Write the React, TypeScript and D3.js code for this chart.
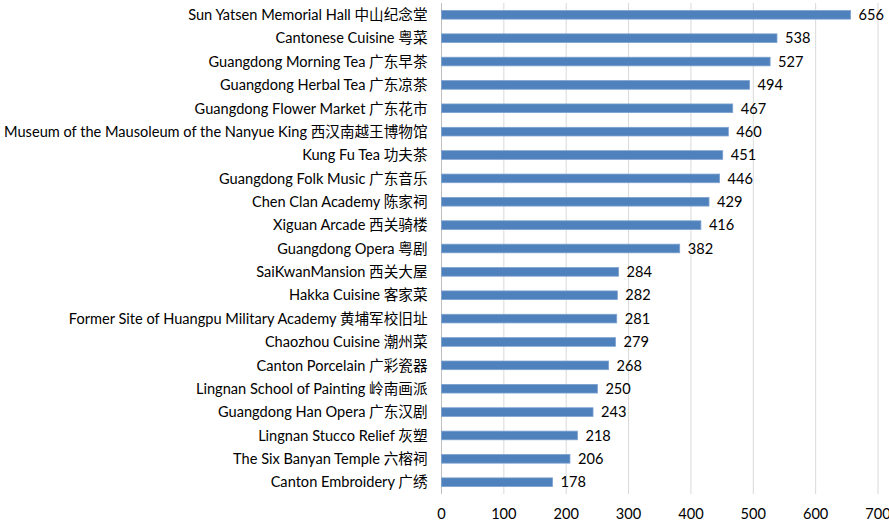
import React from "react"
import * as d3 from "d3"

const categories = [
	"Sun Yatsen Memorial Hall 中山纪念堂",
	"Cantonese Cuisine 粤菜",
	"Guangdong Morning Tea 广东早茶",
	"Guangdong Herbal Tea 广东凉茶",
	"Guangdong Flower Market 广东花市",
	"Museum of the Mausoleum of the Nanyue King 西汉南越王博物馆",
	"Kung Fu Tea 功夫茶",
	"Guangdong Folk Music 广东音乐",
	"Chen Clan Academy 陈家祠",
	"Xiguan Arcade 西关骑楼",
	"Guangdong Opera 粤剧",
	"SaiKwanMansion 西关大屋",
	"Hakka Cuisine 客家菜",
	"Former Site of Huangpu Military Academy  黄埔军校旧址",
	"Chaozhou Cuisine 潮州菜",
	"Canton Porcelain 广彩瓷器",
	"Lingnan School of Painting 岭南画派",
	"Guangdong Han Opera 广东汉剧",
	"Lingnan Stucco Relief 灰塑",
	"The Six Banyan Temple 六榕祠",
	"Canton Embroidery 广绣",
]

const values = [656, 538, 527, 494, 467, 460, 451, 446, 429, 416, 382, 284, 282, 281, 279, 268, 250, 243, 218, 206, 178]

const xTicks = [0, 100, 200, 300, 400, 500, 600, 700]

const width = 889
const height = 522
const margin = { top: 3, right: 11, bottom: 28, left: 441.5 }
const font = "Lato, 'Noto Sans CJK SC', sans-serif"

const App: React.FC = () => {
	const innerHeight = height - margin.top - margin.bottom

	const x = d3.scaleLinear().domain([0, 700]).range([0, 436.5])
	const y = d3
		.scaleBand()
		.domain(categories)
		.range([0, innerHeight])
		.paddingInner(0.63)
		.paddingOuter(0.32)

	return (
		<svg
			width={width}
			height={height}
			style={{ position: "absolute", left: 0, top: 0, fontFamily: font }}>
			<g transform={`translate(${margin.left},${margin.top})`}>
				{xTicks.map((t) => (
					<line
						key={t}
						x1={x(t)}
						x2={x(t)}
						y1={0}
						y2={innerHeight}
						stroke={t === 0 ? "#bfbfbf" : "#d9d9d9"}
						strokeWidth={1}
					/>
				))}
				{categories.map((c, i) => (
					<g key={c}>
						<rect
							x={x(0)}
							y={y(c)}
							width={x(values[i]) - x(0)}
							height={y.bandwidth()}
							fill="#4f81bd"
							stroke="#7da2cf"
							strokeWidth={0.8}
						/>
						<text
							x={x(values[i]) + 8}
							y={(y(c) as number) + y.bandwidth() / 2}
							dy="0.36em"
							fontSize={14.6}
							fill="#000">
							{values[i]}
						</text>
						<text
							x={-14}
							y={(y(c) as number) + y.bandwidth() / 2}
							dy="0.36em"
							textAnchor="end"
							fontSize={14.6}
							fill="#000">
							{c}
						</text>
					</g>
				))}
				{xTicks.map((t) => (
					<text
						key={t}
						x={x(t)}
						y={innerHeight + 20}
						dy="0.36em"
						textAnchor="middle"
						fontSize={14.6}
						fill="#000">
						{t}
					</text>
				))}
			</g>
		</svg>
	)
}

export default App
